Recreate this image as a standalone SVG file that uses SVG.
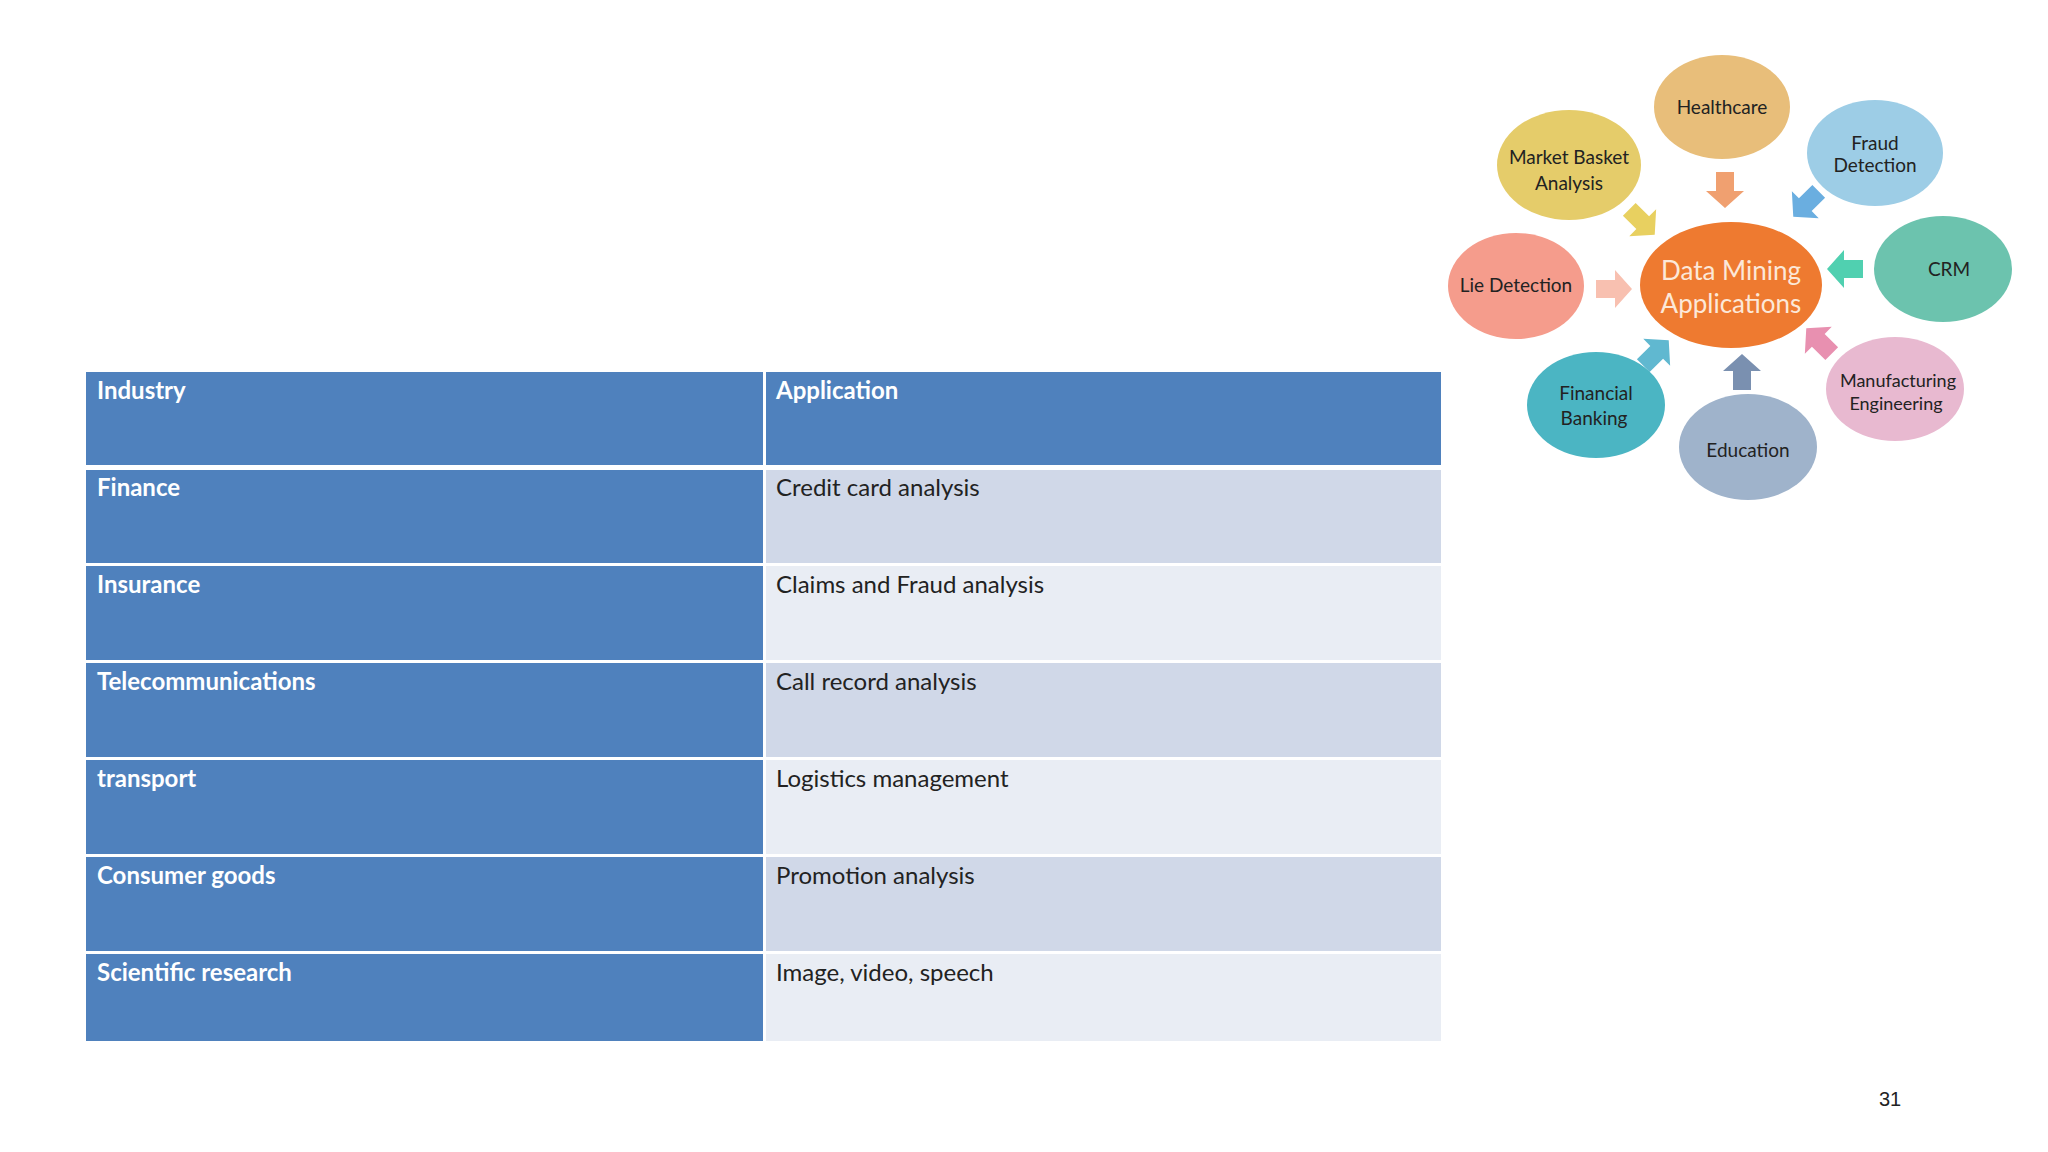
<svg xmlns="http://www.w3.org/2000/svg" width="2048" height="1152" viewBox="0 0 2048 1152">
<style>
.hd{fill:#4F81BD}
.l1{fill:#D0D8E8}
.l2{fill:#E9EDF4}
.th{font-family:Lato,"Open Sans",sans-serif;font-size:24px;font-weight:bold;fill:#fff}
.td{font-family:Lato,"Open Sans",sans-serif;font-size:24px;fill:#222}
.nt{font-family:Lato,"Open Sans",sans-serif;font-size:19px;fill:#222;text-anchor:middle}
.ct{font-family:Lato,"Open Sans",sans-serif;font-size:26px;fill:#FCE8D8;text-anchor:middle}
</style>
<defs><path id="ar" d="M-18,-9 H1 V-19 L18,0 L1,19 V9 H-18 Z"/></defs>
<rect width="2048" height="1152" fill="#fff"/>
<g id="table">
<rect x="85" y="371" width="1356" height="670" fill="#fff"/>
<rect class="hd" x="86" y="372" width="677" height="93"/><rect class="hd" x="766" y="372" width="675" height="93"/>
<rect class="hd" x="86" y="470" width="677" height="93"/><rect class="l1" x="766" y="470" width="675" height="93"/>
<rect class="hd" x="86" y="566" width="677" height="94"/><rect class="l2" x="766" y="566" width="675" height="94"/>
<rect class="hd" x="86" y="663" width="677" height="94"/><rect class="l1" x="766" y="663" width="675" height="94"/>
<rect class="hd" x="86" y="760" width="677" height="94"/><rect class="l2" x="766" y="760" width="675" height="94"/>
<rect class="hd" x="86" y="857" width="677" height="94"/><rect class="l1" x="766" y="857" width="675" height="94"/>
<rect class="hd" x="86" y="954" width="677" height="87"/><rect class="l2" x="766" y="954" width="675" height="87"/>
<text class="th" x="97" y="399">Industry</text><text class="th" x="776" y="399">Application</text>
<text class="th" x="97" y="496">Finance</text><text class="td" x="776" y="496">Credit card analysis</text>
<text class="th" x="97" y="593">Insurance</text><text class="td" x="776" y="593">Claims and Fraud analysis</text>
<text class="th" x="97" y="690">Telecommunications</text><text class="td" x="776" y="690">Call record analysis</text>
<text class="th" x="97" y="787">transport</text><text class="td" x="776" y="787">Logistics management</text>
<text class="th" x="97" y="884">Consumer goods</text><text class="td" x="776" y="884">Promotion analysis</text>
<text class="th" x="97" y="981">Scientific research</text><text class="td" x="776" y="981">Image, video, speech</text>
</g>
<g id="connectors">
<use href="#ar" fill="#F0A070" transform="translate(1725,190) rotate(90)"/>
<use href="#ar" fill="#6AAEE0" transform="translate(1806,204) rotate(135)"/>
<use href="#ar" fill="#E8D060" transform="translate(1642,222) rotate(45)"/>
<use href="#ar" fill="#50D0B0" transform="translate(1845,269) rotate(180)"/>
<use href="#ar" fill="#F8C0B0" transform="translate(1614,289)"/>
<use href="#ar" fill="#60B8D0" transform="translate(1656,353) rotate(-45)"/>
<use href="#ar" fill="#7A90B0" transform="translate(1742,372) rotate(-90)"/>
<use href="#ar" fill="#E890B0" transform="translate(1819,341) rotate(-135)"/>
</g>
<g id="center"><ellipse cx="1731" cy="285" rx="91" ry="63" fill="#EE7A30"/><text class="ct" x="1731" y="280">Data Mining</text><text class="ct" x="1731" y="313">Applications</text></g>
<g id="healthcare"><ellipse cx="1722" cy="107" rx="68" ry="52" fill="#E8BE7A"/><text class="nt" x="1722" y="114">Healthcare</text></g>
<g id="market"><ellipse cx="1569" cy="165" rx="72" ry="55" fill="#E5CC6A"/><text class="nt" x="1569" y="164">Market Basket</text><text class="nt" x="1569" y="190">Analysis</text></g>
<g id="fraud"><ellipse cx="1875" cy="153" rx="68" ry="53" fill="#9DCDE6"/><text class="nt" x="1875" y="150">Fraud</text><text class="nt" x="1875" y="172">Detection</text></g>
<g id="lie"><ellipse cx="1516" cy="286" rx="68" ry="53" fill="#F59C8C"/><text class="nt" x="1516" y="292">Lie Detection</text></g>
<g id="crm"><ellipse cx="1943" cy="269" rx="69" ry="53" fill="#6CC3AE"/><text class="nt" x="1949" y="276">CRM</text></g>
<g id="financial"><ellipse cx="1596" cy="405" rx="69" ry="53" fill="#4BB5C3"/><text class="nt" x="1596" y="400">Financial</text><text class="nt" x="1594" y="425">Banking</text></g>
<g id="education"><ellipse cx="1748" cy="447" rx="69" ry="53" fill="#9FB3CB"/><text class="nt" x="1748" y="457">Education</text></g>
<g id="manufacturing"><ellipse cx="1895" cy="389" rx="69" ry="52" fill="#E8B9D0"/><text class="nt" x="1898" y="387" style="font-size:18px">Manufacturing</text><text class="nt" x="1896" y="410" style="font-size:18px">Engineering</text></g>
<text x="1890" y="1106" font-family="Liberation Sans, sans-serif" font-size="20" fill="#222" text-anchor="middle">31</text>
</svg>
